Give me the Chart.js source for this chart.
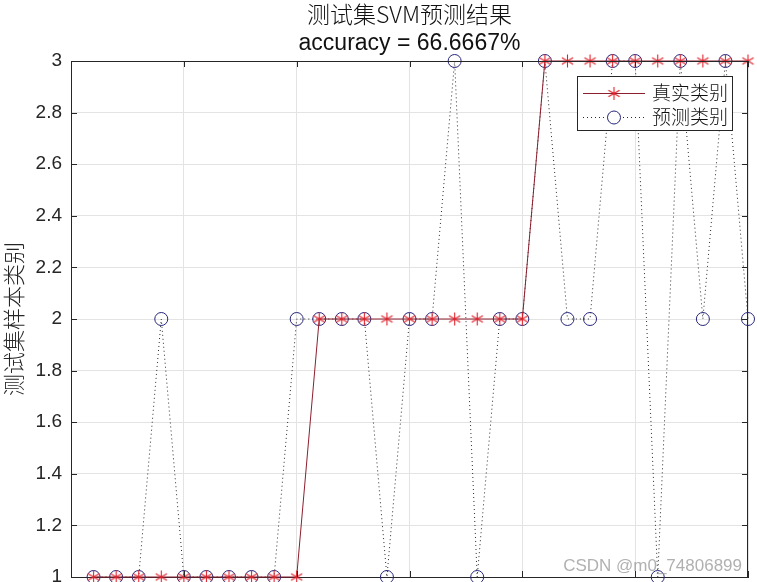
<!DOCTYPE html>
<html>
<head>
<meta charset="utf-8">
<script src="https://cdn.jsdelivr.net/npm/chart.js@4.4.0/dist/chart.umd.min.js"></script>
<style>
  html, body { margin: 0; padding: 0; overflow: hidden; background: #fff; }
  #wrap { width: 757px; height: 640px; }
</style>
</head>
<body>
<div id="wrap"><canvas id="svm-chart" width="757" height="640"></canvas></div>
<script>
// test sample index, true class, predicted class
const sampleIdx = [1, 2, 3, 4, 5, 6, 7, 8, 9, 10, 11, 12, 13, 14, 15, 16, 17, 18, 19, 20, 21, 22, 23, 24, 25, 26, 27, 28, 29, 30];
const trueClass = [1, 1, 1, 1, 1, 1, 1, 1, 1, 1, 2, 2, 2, 2, 2, 2, 2, 2, 2, 2, 3, 3, 3, 3, 3, 3, 3, 3, 3, 3];
const predClass = [1, 1, 1, 2, 1, 1, 1, 1, 1, 2, 2, 2, 2, 1, 2, 2, 3, 1, 2, 2, 3, 2, 2, 3, 3, 1, 3, 2, 3, 2];
const seriesNames = ["真实类别", "预测类别"];
const titleLines = ["测试集SVM预测结果", "accuracy = 66.6667%"];
const yLabel = "测试集样本类别";
const watermark = "CSDN @m0_74806899";

const AXIS = "#262626";
const TRUE_LINE = "#8c1f2e";
const TRUE_MARK = "#e0202a";
const PRED_LINE = "#2a2a2a";
const PRED_MARK = "#26267a";
const CJK = '"Noto Sans CJK SC", sans-serif';
const LAT = '"Liberation Sans", Arial, sans-serif';

// matlab-like '*' marker
function makeStar(color) {
    const c = document.createElement("canvas");
    c.width = 15;
    c.height = 15;
    const g = c.getContext("2d");
    g.strokeStyle = color;
    g.lineWidth = 1.1;
    g.beginPath();
    for (let k = 0; k < 3; k++) {
        const a = Math.PI / 2 + k * Math.PI / 3;
        g.moveTo(7.5 + 6.5 * Math.cos(a), 7.5 + 6.5 * Math.sin(a));
        g.lineTo(7.5 - 6.5 * Math.cos(a), 7.5 - 6.5 * Math.sin(a));
    }
    g.stroke();
    return c;
}
const star = makeStar(TRUE_MARK);

const boxPlugin = {
    id: "matlabBox",
    afterDraw(chart) {
        const ctx = chart.ctx;
        const a = chart.chartArea;
        const xs = chart.scales.x;
        const ys = chart.scales.y;
        ctx.save();

        // axes box + inward ticks
        ctx.strokeStyle = AXIS;
        ctx.lineWidth = 1;
        ctx.beginPath();
        ctx.moveTo(a.left, a.top + 0.5);
        ctx.lineTo(a.right, a.top + 0.5);
        ctx.moveTo(a.right - 0.5, a.top);
        ctx.lineTo(a.right - 0.5, a.bottom);
        ys.ticks.forEach(t => {
            const y = Math.round(ys.getPixelForValue(t.value)) + 0.5;
            ctx.moveTo(a.left, y); ctx.lineTo(a.left + 6, y);
            ctx.moveTo(a.right, y); ctx.lineTo(a.right - 6, y);
        });
        xs.ticks.forEach(t => {
            const x = Math.round(xs.getPixelForValue(t.value)) + 0.5;
            ctx.moveTo(x, a.top); ctx.lineTo(x, a.top + 6);
            ctx.moveTo(x, a.bottom); ctx.lineTo(x, a.bottom - 6);
        });
        ctx.stroke();

        // title, two lines
        const cx = (a.left + a.right) / 2;
        ctx.fillStyle = "#111";
        ctx.textAlign = "center";
        ctx.textBaseline = "middle";
        ctx.font = "300 23px " + CJK;
        ctx.fillText(titleLines[0], cx, 14);
        ctx.font = "23px " + LAT;
        ctx.fillText(titleLines[1], cx, 44);

        // legend box
        const lx = 577.5, ly = 76.5, lw = 155, lh = 54;
        ctx.fillStyle = "#fff";
        ctx.fillRect(lx, ly, lw, lh);
        ctx.strokeStyle = AXIS;
        ctx.strokeRect(lx, ly, lw, lh);

        ctx.beginPath();
        ctx.strokeStyle = TRUE_LINE;
        ctx.moveTo(583, 93.5); ctx.lineTo(645, 93.5);
        ctx.stroke();
        ctx.drawImage(star, 614 - 7.5, 93.5 - 7.5);

        ctx.beginPath();
        ctx.strokeStyle = PRED_LINE;
        ctx.setLineDash([1, 3]);
        ctx.moveTo(583, 117.5); ctx.lineTo(645, 117.5);
        ctx.stroke();
        ctx.setLineDash([]);
        ctx.beginPath();
        ctx.fillStyle = "#fff";
        ctx.strokeStyle = PRED_MARK;
        ctx.arc(614, 117.5, 6.5, 0, Math.PI * 2);
        ctx.fill();
        ctx.stroke();

        ctx.fillStyle = "#111";
        ctx.textAlign = "left";
        ctx.font = "300 19px " + CJK;
        ctx.fillText(seriesNames[0], 652, 93);
        ctx.fillText(seriesNames[1], 652, 117);

        // watermark
        ctx.fillStyle = "rgba(150,150,150,0.75)";
        ctx.textAlign = "right";
        ctx.textBaseline = "alphabetic";
        ctx.font = "17px " + LAT;
        ctx.fillText(watermark, 742, 571);

        ctx.restore();
    }
};

new Chart(document.getElementById("svm-chart"), {
    type: "line",
    data: {
        datasets: [{
            label: seriesNames[0],
            data: sampleIdx.map((x, i) => ({ x, y: trueClass[i] })),
            borderColor: TRUE_LINE,
            borderWidth: 1,
            pointStyle: star,
            pointRadius: 7,
            clip: false
        }, {
            label: seriesNames[1],
            data: sampleIdx.map((x, i) => ({ x, y: predClass[i] })),
            borderColor: PRED_LINE,
            borderWidth: 1,
            borderDash: [1, 3],
            pointStyle: "circle",
            pointRadius: 6.5,
            pointBorderColor: PRED_MARK,
            pointBackgroundColor: "rgba(0,0,0,0)",
            pointBorderWidth: 1,
            clip: false
        }]
    },
    options: {
        responsive: false,
        devicePixelRatio: 1,
        animation: false,
        layout: { padding: { top: 61, right: 9, left: 0, bottom: 0 } },
        plugins: {
            legend: { display: false },
            tooltip: { enabled: false }
        },
        scales: {
            x: {
                type: "linear",
                min: 0,
                max: 30,
                ticks: {
                    stepSize: 5,
                    padding: 9,
                    color: AXIS,
                    font: { family: LAT, size: 19 }
                },
                grid: { color: "#e3e3e3", drawTicks: false },
                border: { color: AXIS },
                afterFit(scale) {
                    scale.height = 63;
                    scale.paddingLeft = 0;
                    scale.paddingRight = 0;
                }
            },
            y: {
                min: 1,
                max: 3,
                ticks: {
                    stepSize: 0.2,
                    padding: 9,
                    color: AXIS,
                    font: { family: LAT, size: 19 },
                    callback: v => String(+v.toFixed(1))
                },
                grid: { color: "#e3e3e3", drawTicks: false },
                border: { color: AXIS },
                title: {
                    display: true,
                    text: yLabel,
                    color: AXIS,
                    padding: 0,
                    font: { family: CJK, size: 22, weight: "300" }
                },
                afterFit(scale) {
                    scale.width = 71;
                    scale.paddingTop = 0;
                    scale.paddingBottom = 0;
                }
            }
        }
    },
    plugins: [boxPlugin]
});
</script>
</body>
</html>
